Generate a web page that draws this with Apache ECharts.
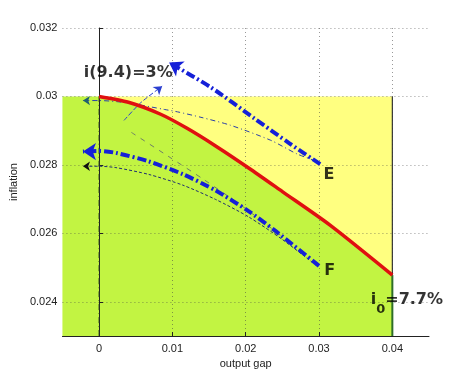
<!DOCTYPE html>
<html>
<head>
<meta charset="utf-8">
<script src="https://cdn.jsdelivr.net/npm/echarts@6/dist/echarts.min.js"></script>
<style>
  html, body { margin: 0; padding: 0; background: #fff; }
  #chart { width: 474px; height: 377px; }
</style>
</head>
<body>
<div id="chart"></div>
<script>
// tick values
const xTicks = [0, 0.01, 0.02, 0.03, 0.04]
const yTicks = [0.024, 0.026, 0.028, 0.03, 0.032]

// red frontier (zero gap at 3% down to i0 at 0.04)
const frontier = [[0, 0.03], [0.004, 0.02983], [0.0084, 0.02948], [0.012, 0.02907], [0.016, 0.02854],
  [0.0204, 0.02791], [0.025, 0.02722], [0.0315, 0.02624], [0.04, 0.02478]]
// regions
const targetTop = [[0, 0.03], [0.04, 0.03]]
const leftTop = [[-0.005, 0.03]]
// thick paths starting at E and F, tip last
const pathE = [[0.03016, 0.02802], [0.0261, 0.02861], [0.0211, 0.02937], [0.01522, 0.03027], [0.00955, 0.03099]]
const pathF = [[0.03, 0.02505], [0.02405, 0.02607], [0.02038, 0.02665], [0.0159, 0.02725], [0.01141, 0.02773],
  [0.00679, 0.0281], [0.00231, 0.02835], [0, 0.02841], [-0.0022, 0.02839]]
// thin paths
const thinE = [[0.0295, 0.02812], [0.027, 0.02832], [0.0234, 0.02872], [0.0179, 0.02916], [0.0139, 0.02939],
  [0.0107, 0.02955], [0.0089, 0.02962], [0.004, 0.02981], [0, 0.02988], [-0.0022, 0.02988]]
const thinF = [[0.0297, 0.02505], [0.025, 0.02582], [0.0204, 0.02648], [0.0159, 0.02699], [0.0114, 0.02741],
  [0.0068, 0.02772], [0.0023, 0.02792], [0, 0.02796], [-0.0022, 0.02796]]
const shortPath = [[0.0034, 0.0293], [0.0057, 0.02982], [0.0086, 0.0303]]
const grayPath = [[0.0044, 0.02895], [0.0093, 0.02827], [0.0143, 0.02757], [0.0191, 0.02686], [0.0213, 0.02651], [0.025, 0.0259]]
const zeroLine = [[0, 0.023], [0, 0.03]]
const edgeLow = [[0.04, 0.023], [0.04, 0.02478]]
const edgeHigh = [[0.04, 0.02478], [0.04, 0.03]]
// annotations
const labelPos = [[-0.0021, 0.03068], [0.0306, 0.0277], [0.0307, 0.02491], [0.03705, 0.02393]]
const labelText = ['i(9.4)=3%', 'E', 'F', '{a|i}{s|0}{a|=7.7%}']

const chart = echarts.init(document.getElementById('chart'))

// put an arrow head on the last point of a path
function withArrow (pts, size, rotate, tipColor) {
  return pts.map((p, i) => i === pts.length - 1
    ? { value: p, symbol: 'arrow', symbolSize: size, symbolRotate: rotate, itemStyle: tipColor ? { color: tipColor } : undefined }
    : { value: p })
}

function path (name, pts, color, width, dash, z, arrow) {
  return {
    name,
    type: 'line',
    data: arrow ? withArrow(pts, arrow[0], arrow[1], arrow[2]) : pts,
    symbol: 'none',
    showSymbol: true,
    smooth: 0.25,
    silent: true,
    z,
    lineStyle: { color, width, type: dash },
    itemStyle: { color }
  }
}

const axisFont = { fontFamily: 'Liberation Sans, Arial, sans-serif', fontSize: 11, color: '#222' }

const option = {
  animation: false,
  grid: { left: 62, right: 45, top: 28, bottom: 41 },
  xAxis: {
    type: 'value',
    min: -0.005,
    max: 0.045,
    name: 'output gap',
    nameLocation: 'middle',
    nameGap: 20,
    nameTextStyle: axisFont,
    axisLine: { lineStyle: { color: '#222', width: 1 } },
    axisTick: { inside: true, length: 4, customValues: xTicks, lineStyle: { color: '#222' } },
    axisLabel: Object.assign({ customValues: xTicks, margin: 7 }, axisFont),
    splitLine: { show: true, lineStyle: { color: 'rgba(70,70,70,0.55)', type: [1, 3], width: 1 } }
  },
  yAxis: {
    type: 'value',
    min: 0.023,
    max: 0.032,
    name: 'inflation',
    nameLocation: 'middle',
    nameGap: 37,
    nameTextStyle: axisFont,
    axisLine: { show: true, lineStyle: { color: '#222', width: 1 } },
    axisTick: { show: true, inside: true, length: 4, customValues: yTicks, lineStyle: { color: '#222' } },
    axisLabel: Object.assign({ customValues: yTicks, margin: 5 }, axisFont),
    splitLine: { show: true, lineStyle: { color: 'rgba(70,70,70,0.55)', type: [1, 3], width: 1 } }
  },
  series: [
    {
      name: 'yellow',
      type: 'line',
      data: targetTop,
      symbol: 'none',
      silent: true,
      z: -2,
      lineStyle: { width: 0 },
      areaStyle: { color: '#ffff80', opacity: 1, origin: 'start' }
    },
    {
      name: 'green',
      type: 'line',
      data: leftTop.concat(frontier),
      symbol: 'none',
      smooth: 0.25,
      silent: true,
      z: -1,
      lineStyle: { width: 0 },
      areaStyle: { color: '#c2f442', opacity: 1, origin: 'start' }
    },
    path('zero', zeroLine, '#2a3a20', 1, [6, 3, 1, 3], 3),
    path('edgeLow', edgeLow, '#2e6e28', 2, 'solid', 3),
    path('edgeHigh', edgeHigh, '#333333', 1.2, 'solid', 3),
    path('gray', grayPath, '#6f7f68', 1, [5, 6], 4),
    path('thinE', thinE, '#2b3fa8', 1, [5, 3, 1, 3], 4, [7, 90, '#1f6070']),
    path('thinF', thinF, '#1f2f70', 1, [3, 2], 4, [7, 90, '#111111']),
    path('short', shortPath, '#2b3fd0', 1, [5, 2], 4, [8, -52]),
    path('frontier', frontier, '#e01010', 3.5, 'solid', 5),
    path('E', pathE, '#1520d8', 4, [9, 3, 2, 3], 6, [13, 60]),
    path('F', pathF, '#1520d8', 4, [9, 3, 2, 3], 6, [13, 90]),
    {
      name: 'labels',
      type: 'scatter',
      data: labelPos.map((p, i) => ({ value: p, label: { formatter: labelText[i] } })),
      symbolSize: 0,
      silent: true,
      z: 7,
      label: {
        show: true,
        position: 'right',
        distance: 0,
        fontFamily: 'DejaVu Sans, sans-serif',
        fontWeight: 'bold',
        fontSize: 16,
        color: '#000',
        rich: {
          a: { fontFamily: 'DejaVu Sans, sans-serif', fontWeight: 'bold', fontSize: 16, color: '#000', lineHeight: 24, verticalAlign: 'top' },
          s: { fontFamily: 'DejaVu Sans, sans-serif', fontWeight: 'bold', fontSize: 13, color: '#000', lineHeight: 24, verticalAlign: 'bottom' }
        }
      }
    }
  ]
}

chart.setOption(option)
</script>
</body>
</html>
